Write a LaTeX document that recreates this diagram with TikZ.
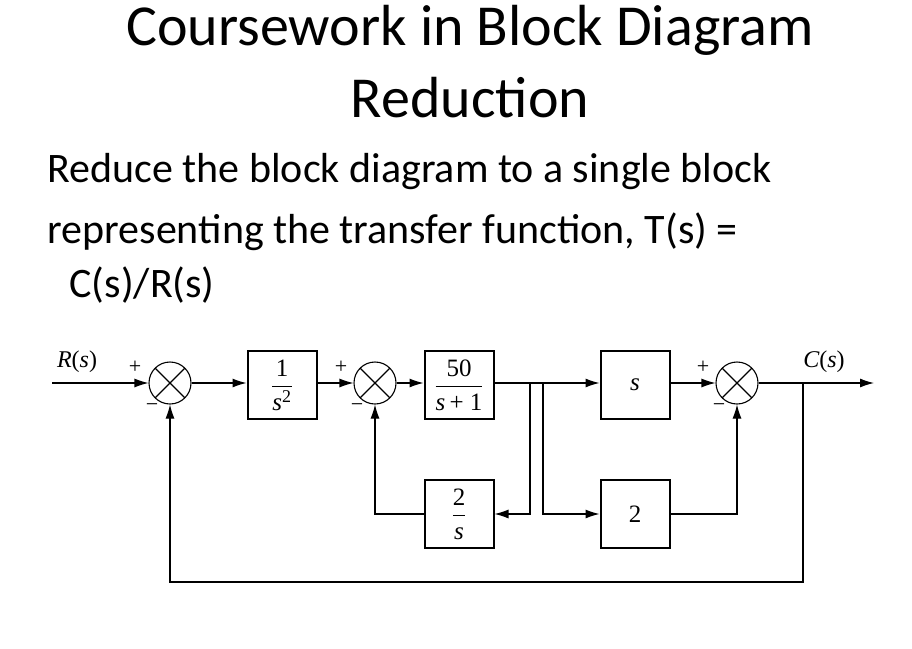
\documentclass[tikz,border=0pt]{standalone}
\usepackage{fontspec}
\usepackage{amsmath}
\setmainfont{Carlito}
\newfontfamily\tms{Liberation Serif}
\newcommand{\tx}[1]{\mbox{\tms #1}}
\newcommand{\ti}[1]{\mbox{\tms\itshape #1}}
\usetikzlibrary{arrows.meta}
\begin{document}
\begin{tikzpicture}[x=1pt,y=-1pt,
  blk/.style={draw,line width=2pt,minimum width=69pt,minimum height=68pt,inner sep=0pt,font=\tms\fontsize{25}{27}\selectfont},
  sumj/.style={draw,line width=1.1pt,circle,minimum size=42pt,inner sep=0pt,path picture={\draw[line width=1.1pt] (path picture bounding box.north west)--(path picture bounding box.south east) (path picture bounding box.north east)--(path picture bounding box.south west);}},
  ln/.style={line width=1.1pt},
  ar/.style={ln,-{Latex[length=14pt,width=9pt]}},
  sg/.style={font=\tms\fontsize{22}{24}\selectfont},
  lb/.style={font=\tms\fontsize{24}{26}\selectfont},
  ttl/.style={font=\fontsize{58}{64}\selectfont},
  bd/.style={font=\fontsize{42}{48}\selectfont,anchor=west}]
\useasboundingbox (0,0) rectangle (912,648);
\node[ttl] (t1) at (470,30) {Coursework in Block Diagram};
\node[ttl] (t2) at (470,98) {Reduction};
\node[bd] (b1) at (44,172) {Reduce the block diagram to a single block};
\node[bd] (b2) at (44,232) {representing the transfer function, T(s) =};
\node[bd] (b3) at (66,285) {C(s)/R(s)};

\coordinate (in) at (52,383);
\node[sumj] (s1) at (170,383) {};
\node[blk] (g1) at (282,385) {$\dfrac{\tx{1}}{\ti{s}^{\tx{\fontsize{18}{18}\selectfont 2}}}$};
\node[sumj] (s2) at (375,383) {};
\node[blk] (g2) at (459,385) {$\dfrac{\tx{50}}{\ti{s}\,\tx{+ 1}}$};
\node[blk] (g3) at (635,385) {\itshape s};
\node[sumj] (s3) at (737,383) {};
\node[blk] (h1) at (459,514) {$\dfrac{\tx{2}}{\ti{s}}$};
\node[blk] (h2) at (635,514) {2};
\coordinate (out) at (874,383);
\coordinate (p1) at (530,383);
\coordinate (p2) at (543,383);
\coordinate (p3) at (803,383);

\node[lb] (r) at (77,362) {\itshape R\upshape(\itshape s\upshape)};
\node[lb] (c) at (824,362) {\itshape C\upshape(\itshape s\upshape)};
\node[sg] (a1) at (135,367) {+};
\node[sg] (a2) at (152,408) {−};
\node[sg] (a3) at (341,367) {+};
\node[sg] (a4) at (357,408) {−};
\node[sg] (a5) at (703,367) {+};
\node[sg] (a6) at (719,408) {−};

\draw[ar] (in) -- (s1);
\draw[ar] (s1) -- (g1.west|-s1);
\draw[ar] (g1.east|-s2) -- (s2);
\draw[ar] (s2) -- (g2.west|-s2);
\draw[ln] (g2.east|-p1) -- (p2);
\draw[ar] (p2) -- (g3.west|-p2);
\draw[ar] (g3.east|-s3) -- (s3);
\draw[ar] (s3) -- (out);
\draw[ar] (p1) |- (h1.east);
\draw[ar] (p2) |- (h2.west);
\draw[ar] (h1.west) -| (s2.south);
\draw[ar] (h2.east) -| (s3.south);
\draw[ar] (p3) |- (170,582) -- (s1.south);
\end{tikzpicture}
\end{document}
